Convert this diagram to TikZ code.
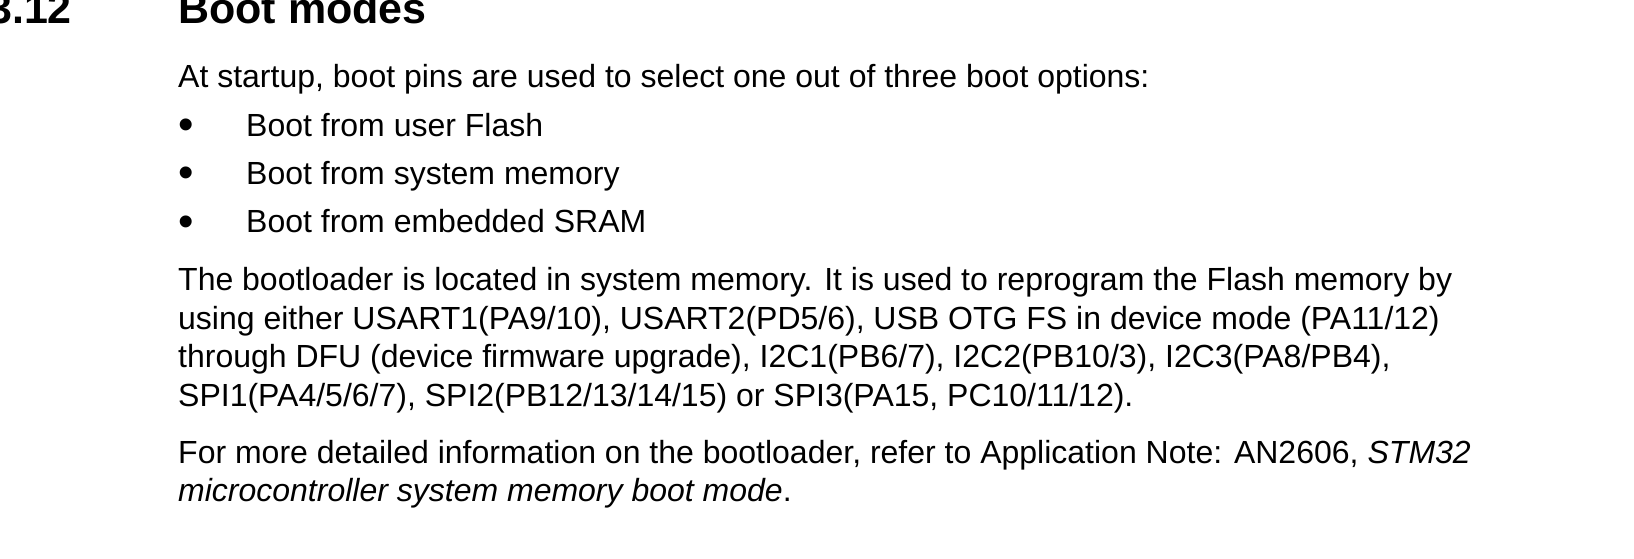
\documentclass[tikz,border=0pt]{standalone}
\usepackage{fontspec}
\setmainfont{Liberation Sans}
\usetikzlibrary{positioning}
\begin{document}
\begin{tikzpicture}[x=1pt,y=1pt,
  body/.style={anchor=base west,inner sep=0pt,font=\fontsize{32}{36}\selectfont},
  head/.style={anchor=base west,inner sep=0pt,font=\fontsize{43}{47}\selectfont\bfseries}]
	\useasboundingbox (0,0) rectangle (1634,558);
	\node[head] (num) at (-12,534) {3.12};
	\node[head] (title) at (178,534) {Boot modes};
	\node[body] (intro) at (178,470) {At startup, boot pins are used to select one out of three boot options:};
	% bullet list
	\foreach \y/\t [count=\i] in {421/Boot from user Flash,373/Boot from system memory,325/Boot from embedded SRAM}{
		\node[body,font=\fontsize{44}{44}\selectfont] (dot\i) at (178,\y-3) {\textbullet};
		\node[body] (item\i) at (246,\y) {\t};
	}
	\node[body] (p1) at (178,268) {The bootloader is located in system memory. It is used to reprogram the Flash memory by};
	\node[body] (p2) at (178,229) {using either USART1(PA9/10), USART2(PD5/6), USB OTG FS in device mode (PA11/12)};
	\node[body] (p3) at (178,191) {through DFU (device firmware upgrade), I2C1(PB6/7), I2C2(PB10/3), I2C3(PA8/PB4),};
	\node[body] (p4) at (178,152) {SPI1(PA4/5/6/7), SPI2(PB12/13/14/15) or SPI3(PA15, PC10/11/12).};
	\node[body] (q1) at (178,95) {For more detailed information on the bootloader, refer to Application Note: AN2606, \textit{STM32}};
	\node[body] (q2) at (178,57) {\textit{microcontroller system memory boot mode}.};
\end{tikzpicture}
\end{document}
